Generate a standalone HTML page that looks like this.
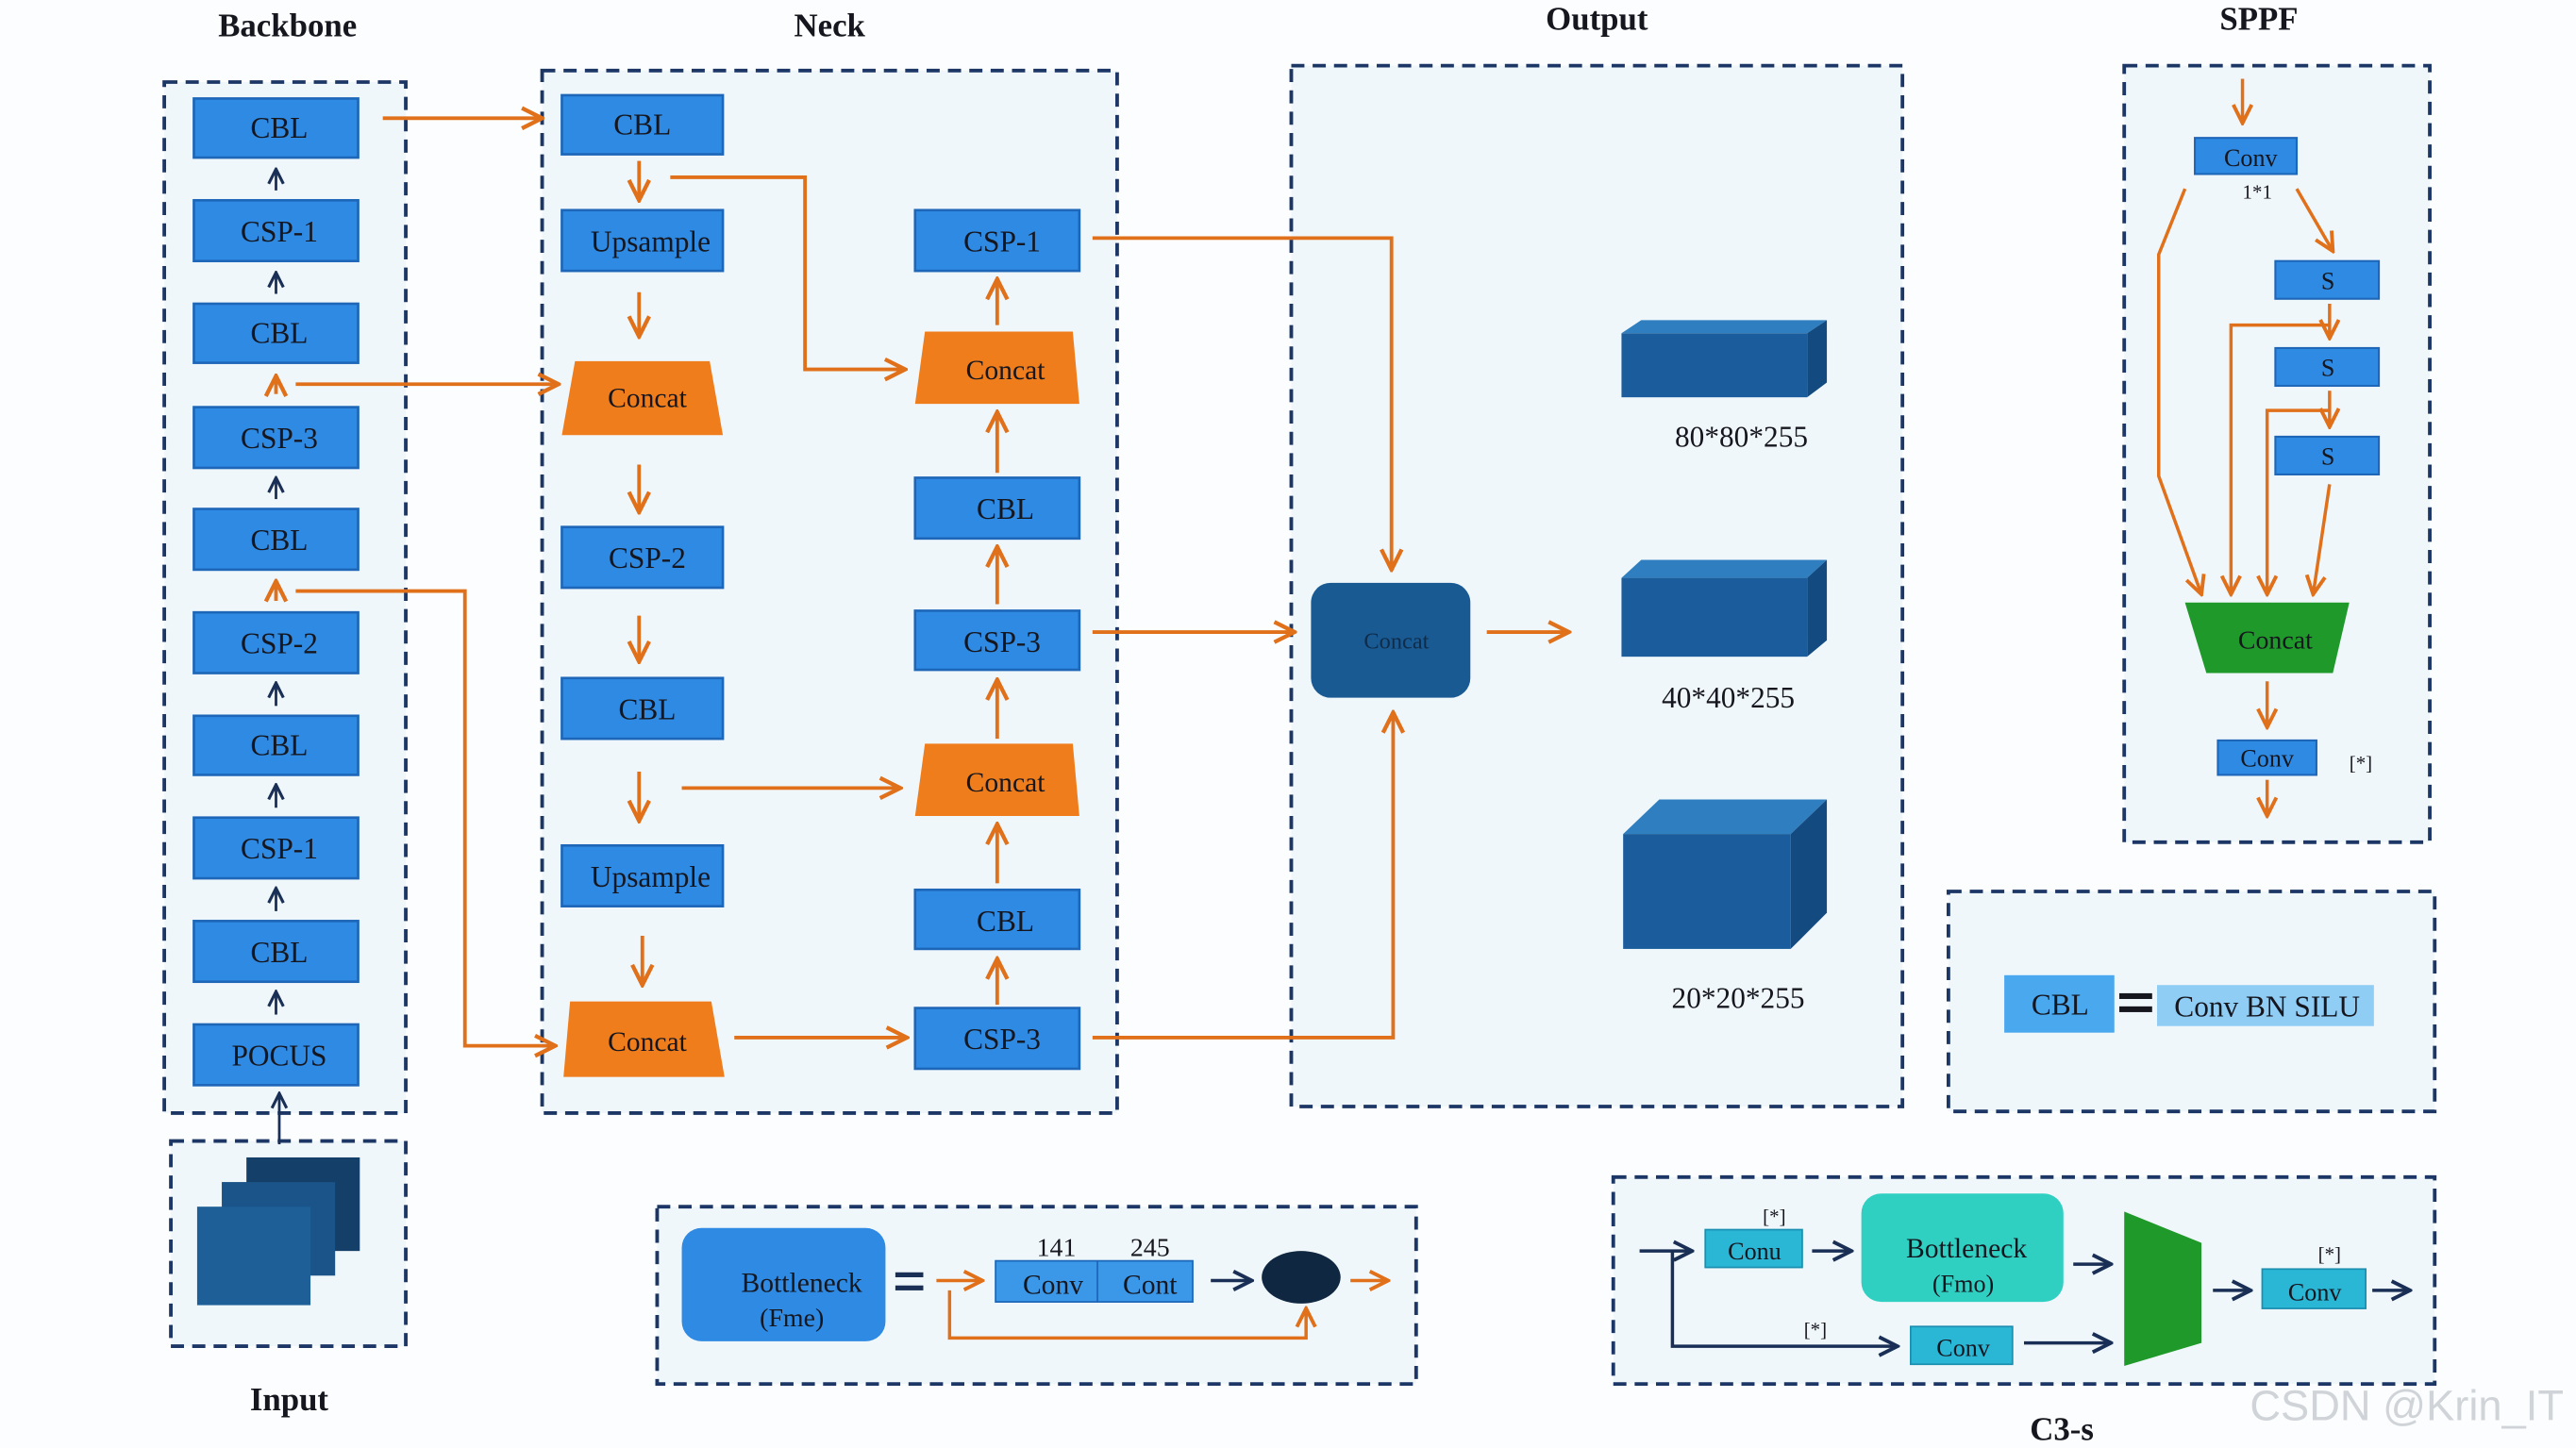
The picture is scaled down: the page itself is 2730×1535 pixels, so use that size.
<!DOCTYPE html>
<html><head><meta charset="utf-8"><style>
html,body{margin:0;padding:0;background:#fbfdfe;}
svg{display:block;}
text{font-family:"Liberation Serif",serif;fill:#16161f;}
</style></head><body>
<svg width="2730" height="1535" viewBox="0 0 1568 882" preserveAspectRatio="none" xmlns="http://www.w3.org/2000/svg">
<defs>
<marker id="ao" viewBox="0 0 10 10" refX="9" refY="5" markerWidth="7" markerHeight="7" orient="auto-start-reverse"><path d="M1,1 L9,5 L1,9" fill="none" stroke="#e0701a" stroke-width="1.6"/></marker>
<marker id="ad" viewBox="0 0 10 10" refX="9" refY="5" markerWidth="7" markerHeight="7" orient="auto-start-reverse"><path d="M1,1 L9,5 L1,9" fill="none" stroke="#1a2f55" stroke-width="1.6"/></marker>
</defs>
<rect width="1568" height="882" fill="#fbfdfe"/>
<g font-weight="bold" font-size="20" text-anchor="middle">
<text x="175" y="22">Backbone</text><text x="505" y="22">Neck</text><text x="972" y="18">Output</text><text x="1375" y="18">SPPF</text><text x="176" y="859">Input</text><text x="1255" y="877">C3-s</text>
</g>
<g fill="#f0f7fb" stroke="#1c3766" stroke-width="2.2" stroke-dasharray="8,5">
<rect x="100" y="50" width="147" height="628"/>
<rect x="104" y="695" width="143" height="125"/>
<rect x="330" y="43" width="350" height="635"/>
<rect x="786" y="40" width="372" height="634"/>
<rect x="1293" y="40" width="186" height="473"/>
<rect x="1186" y="543" width="296" height="134"/>
<rect x="400" y="735" width="462" height="108"/>
<rect x="982" y="717" width="500" height="126"/>
</g>
<!-- backbone boxes -->
<g fill="#2e8ae2" stroke="#1d66b8" stroke-width="1.5">
<rect x="118" y="60" width="100" height="36"/><rect x="118" y="122" width="100" height="37"/><rect x="118" y="185" width="100" height="36"/><rect x="118" y="248" width="100" height="37"/><rect x="118" y="310" width="100" height="37"/><rect x="118" y="373" width="100" height="37"/><rect x="118" y="436" width="100" height="36"/><rect x="118" y="498" width="100" height="37"/><rect x="118" y="561" width="100" height="37"/><rect x="118" y="624" width="100" height="37"/>
<rect x="342" y="58" width="98" height="36"/><rect x="342" y="128" width="98" height="37"/><rect x="342" y="321" width="98" height="37"/><rect x="342" y="413" width="98" height="37"/><rect x="342" y="515" width="98" height="37"/>
<rect x="557" y="128" width="100" height="37"/><rect x="557" y="291" width="100" height="37"/><rect x="557" y="372" width="100" height="36"/><rect x="557" y="542" width="100" height="36"/><rect x="557" y="614" width="100" height="37"/>
</g>
<g font-size="18" text-anchor="middle">
<text x="170" y="84">CBL</text><text x="170" y="147">CSP-1</text><text x="170" y="209">CBL</text><text x="170" y="273">CSP-3</text><text x="170" y="335">CBL</text><text x="170" y="398">CSP-2</text><text x="170" y="460">CBL</text><text x="170" y="523">CSP-1</text><text x="170" y="586">CBL</text><text x="170" y="649">POCUS</text>
<text x="391" y="82">CBL</text><text x="396" y="153">Upsample</text><text x="394" y="346">CSP-2</text><text x="394" y="438">CBL</text><text x="396" y="540">Upsample</text>
<text x="610" y="153">CSP-1</text><text x="612" y="316">CBL</text><text x="610" y="397">CSP-3</text><text x="612" y="567">CBL</text><text x="610" y="639">CSP-3</text>
</g>
<!-- concat trapezoids -->
<g fill="#f07d1c">
<polygon points="350,220 432,220 440,265 342,265"/>
<polygon points="347,610 433,610 441,656 343,656"/>
<polygon points="563,202 653,202 657,246 557,246"/>
<polygon points="563,453 653,453 657,497 557,497"/>
</g>
<g font-size="17" text-anchor="middle">
<text x="394" y="248">Concat</text><text x="394" y="640">Concat</text><text x="612" y="231">Concat</text><text x="612" y="482">Concat</text>
</g>
<!-- backbone up arrows -->
<g stroke="#1a2f55" stroke-width="1.6" fill="none" marker-end="url(#ad)">
<line x1="168" y1="116" x2="168" y2="103"/><line x1="168" y1="179" x2="168" y2="166"/><line x1="168" y1="304" x2="168" y2="291"/><line x1="168" y1="430" x2="168" y2="416"/><line x1="168" y1="492" x2="168" y2="478"/><line x1="168" y1="555" x2="168" y2="541"/><line x1="168" y1="618" x2="168" y2="604"/><line x1="170" y1="697" x2="170" y2="666"/>
</g>
<!-- input stacks -->
<rect x="150" y="705" width="69" height="57" fill="#143f68"/>
<rect x="135" y="720" width="69" height="57" fill="#1b5488"/>
<rect x="120" y="735" width="69" height="60" fill="#1d5f96"/>
<!-- orange connectors -->
<g stroke="#e0701a" stroke-width="2.2" fill="none" marker-end="url(#ao)">
<line x1="233" y1="72" x2="330" y2="72"/>
<line x1="389" y1="98" x2="389" y2="122"/>
<polyline points="408,108 490,108 490,225 551,225"/>
<line x1="389" y1="178" x2="389" y2="205"/>
<line x1="180" y1="234" x2="340" y2="234"/>
<line x1="168" y1="240" x2="168" y2="229"/>
<line x1="389" y1="283" x2="389" y2="312"/>
<line x1="389" y1="375" x2="389" y2="403"/>
<line x1="389" y1="470" x2="389" y2="500"/>
<line x1="415" y1="480" x2="548" y2="480"/>
<line x1="391" y1="570" x2="391" y2="600"/>
<line x1="168" y1="366" x2="168" y2="354"/>
<polyline points="180,360 283,360 283,637 338,637"/>
<line x1="447" y1="632" x2="552" y2="632"/>
<line x1="607" y1="612" x2="607" y2="584"/>
<line x1="607" y1="538" x2="607" y2="502"/>
<line x1="607" y1="450" x2="607" y2="414"/>
<line x1="607" y1="368" x2="607" y2="333"/>
<line x1="607" y1="288" x2="607" y2="251"/>
<line x1="607" y1="198" x2="607" y2="170"/>
<polyline points="665,145 847,145 847,347"/>
<line x1="665" y1="385" x2="788" y2="385"/>
<polyline points="665,632 848,632 848,434"/>
<line x1="905" y1="385" x2="955" y2="385"/>
</g>
<!-- output -->
<rect x="798" y="355" width="97" height="70" rx="12" fill="#1a5a92"/>
<text x="850" y="395" font-size="14" text-anchor="middle" fill="#0f2c4a" style="fill:#0f2c4a">Concat</text>
<g>
<polygon points="987,203 999,195 1112,195 1100,203" fill="#2f7fc0"/><rect x="987" y="203" width="113" height="39" fill="#1b5d9c"/><polygon points="1100,203 1112,195 1112,233 1100,242" fill="#134a80"/>
<polygon points="987,352 999,341 1112,341 1100,352" fill="#2f7fc0"/><rect x="987" y="352" width="113" height="48" fill="#1b5d9c"/><polygon points="1100,352 1112,341 1112,390 1100,400" fill="#134a80"/>
<polygon points="988,508 1010,487 1112,487 1090,508" fill="#2f7fc0"/><rect x="988" y="508" width="102" height="70" fill="#1b5d9c"/><polygon points="1090,508 1112,487 1112,556 1090,578" fill="#134a80"/>
</g>
<g font-size="18" text-anchor="middle">
<text x="1060" y="272">80*80*255</text><text x="1052" y="431">40*40*255</text><text x="1058" y="614">20*20*255</text>
</g>
<!-- SPPF -->
<g fill="#2e8ae2" stroke="#1d66b8" stroke-width="1.2">
<rect x="1336" y="84" width="62" height="22"/><rect x="1385" y="159" width="63" height="23"/><rect x="1385" y="212" width="63" height="23"/><rect x="1385" y="266" width="63" height="23"/><rect x="1350" y="451" width="60" height="21"/>
</g>
<polygon points="1330,367 1430,367 1420,410 1343,410" fill="#1f9a2a"/>
<g font-size="15" text-anchor="middle">
<text x="1370" y="101">Conv</text><text x="1374" y="121" font-size="12">1*1</text><text x="1417" y="176">S</text><text x="1417" y="229">S</text><text x="1417" y="283">S</text><text x="1385" y="395" font-size="16">Concat</text><text x="1380" y="467">Conv</text><text x="1437" y="469" font-size="12">[*]</text>
</g>
<g stroke="#e0701a" stroke-width="2" fill="none" marker-end="url(#ao)">
<line x1="1365" y1="48" x2="1365" y2="75"/>
<line x1="1398" y1="115" x2="1420" y2="153"/>
<line x1="1418" y1="185" x2="1418" y2="206"/>
<line x1="1418" y1="238" x2="1418" y2="260"/>
<polyline points="1330,115 1314,155 1314,290 1340,362"/>
<polyline points="1418,198 1358,198 1358,362"/>
<polyline points="1418,250 1380,250 1380,362"/>
<line x1="1418" y1="295" x2="1408" y2="362"/>
<line x1="1380" y1="415" x2="1380" y2="443"/>
<line x1="1380" y1="475" x2="1380" y2="497"/>
</g>
<!-- CBL legend -->
<rect x="1220" y="594" width="67" height="35" fill="#4aa8ee"/>
<text x="1254" y="618" font-size="18" text-anchor="middle">CBL</text>
<rect x="1290" y="605" width="20" height="3.5" fill="#16161f"/><rect x="1290" y="613" width="20" height="3.5" fill="#16161f"/>
<rect x="1313" y="600" width="132" height="25" fill="#8fcdf4"/>
<text x="1380" y="619" font-size="18" text-anchor="middle">Conv BN SILU</text>
<!-- bottleneck -->
<rect x="415" y="748" width="124" height="69" rx="12" fill="#2e8ae2"/>
<text x="488" y="787" font-size="17" text-anchor="middle">Bottleneck</text><text x="482" y="808" font-size="16" text-anchor="middle">(Fme)</text>
<rect x="545" y="775" width="17" height="3" fill="#1a2f55"/><rect x="545" y="783" width="17" height="3" fill="#1a2f55"/>
<rect x="606" y="768" width="120" height="25" fill="#3b98e8" stroke="#1d66b8"/><line x1="668" y1="768" x2="668" y2="793" stroke="#1d66b8"/>
<text x="641" y="788" font-size="17" text-anchor="middle">Conv</text><text x="700" y="788" font-size="17" text-anchor="middle">Cont</text>
<text x="643" y="765" font-size="16" text-anchor="middle">141</text><text x="700" y="765" font-size="16" text-anchor="middle">245</text>
<ellipse cx="792" cy="778" rx="24" ry="16" fill="#0f2740"/>
<g stroke="#e0701a" stroke-width="2" fill="none" marker-end="url(#ao)">
<line x1="570" y1="780" x2="598" y2="780"/>
<line x1="822" y1="780" x2="845" y2="780"/>
<polyline points="578,786 578,815 795,815 795,797"/>
</g>
<line x1="737" y1="780" x2="762" y2="780" stroke="#1a2f55" stroke-width="2" marker-end="url(#ad)"/>
<!-- C3-s -->
<g fill="#2ab7d6" stroke="#1b8fb0" stroke-width="1">
<rect x="1038" y="749" width="59" height="23"/><rect x="1163" y="808" width="62" height="23"/><rect x="1377" y="773" width="63" height="24"/>
</g>
<rect x="1133" y="727" width="123" height="66" rx="12" fill="#2fd0c2"/>
<polygon points="1293,738 1340,757 1340,818 1293,832" fill="#1f9a2a"/>
<g font-size="15" text-anchor="middle">
<text x="1068" y="767">Conu</text><text x="1195" y="826">Conv</text><text x="1409" y="792">Conv</text>
<text x="1197" y="766" font-size="17">Bottleneck</text><text x="1195" y="787" font-size="15">(Fmo)</text>
<text x="1080" y="745" font-size="12">[*]</text><text x="1105" y="814" font-size="12">[*]</text><text x="1418" y="768" font-size="12">[*]</text>
</g>
<g stroke="#1a2f55" stroke-width="2" fill="none" marker-end="url(#ad)">
<line x1="998" y1="762" x2="1030" y2="762"/>
<polyline points="1018,762 1018,820 1155,820"/>
<line x1="1103" y1="762" x2="1127" y2="762"/>
<line x1="1262" y1="770" x2="1285" y2="770"/>
<line x1="1232" y1="818" x2="1285" y2="818"/>
<line x1="1347" y1="786" x2="1370" y2="786"/>
<line x1="1444" y1="786" x2="1467" y2="786"/>
</g>
<text x="1465" y="865" font-size="26" text-anchor="middle" style="fill:#d0d4d8;font-family:'Liberation Sans',sans-serif">CSDN @Krin_IT</text>
</svg>
</body></html>
